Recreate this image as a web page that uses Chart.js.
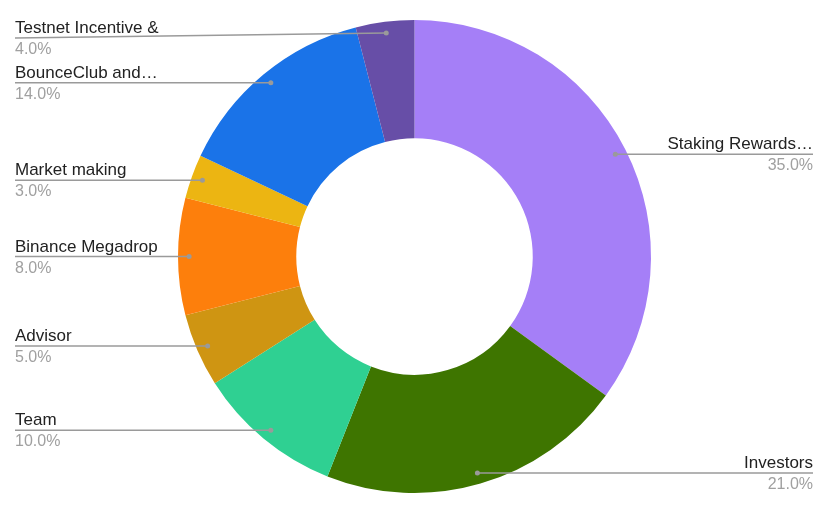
<!DOCTYPE html>
<html>
<head>
<meta charset="utf-8">
<script src="https://cdn.jsdelivr.net/npm/chart.js@4"></script>
<style>
  body { margin: 0; background: #fff; }
  #wrap { width: 829px; height: 505px; position: relative; }
</style>
</head>
<body>
<div id="wrap"><canvas id="myChart"></canvas></div>
<script>
/* data */
const labels = ['Staking Rewards…', 'Investors', 'Team', 'Advisor', 'Binance Megadrop', 'Market making', 'BounceClub and…', 'Testnet Incentive &'];
const shares = [35, 21, 10, 5, 8, 3, 14, 4];
const colors = ['#a57ff7', '#3e7500', '#2fd092', '#cf9512', '#fd7f0c', '#ecb512', '#1a73e8', '#674ea7'];

/* leader line labels */
const calloutLabels = {
    id: 'calloutLabels',
    afterDraw(chart) {
        const ctx = chart.ctx;
        const meta = chart.getDatasetMeta(0);
        const total = shares.reduce((a, b) => a + b, 0);
        ctx.save();
        meta.data.forEach((arc, i) => {
            const p = arc.getProps(['x', 'y', 'startAngle', 'endAngle', 'outerRadius'], true);
            const mid = (p.startAngle + p.endAngle) / 2;
            const r = p.outerRadius * 0.953;
            const dx = p.x + Math.cos(mid) * r;
            const dy = p.y + Math.sin(mid) * r;
            const left = Math.cos(mid) < 0;
            const ly = Math.max(dy, 38);
            const lx = left ? 15 : 813;

            ctx.strokeStyle = '#9a9a9a';
            ctx.lineWidth = 1.5;
            ctx.beginPath();
            ctx.moveTo(dx, dy);
            ctx.lineTo(lx, ly);
            ctx.stroke();

            ctx.fillStyle = '#9a9a9a';
            ctx.beginPath();
            ctx.arc(dx, dy, 2.5, 0, Math.PI * 2);
            ctx.fill();

            ctx.textAlign = left ? 'left' : 'right';
            ctx.textBaseline = 'alphabetic';
            ctx.font = '17px "Liberation Sans", Arial, sans-serif';
            ctx.fillStyle = '#222222';
            ctx.fillText(labels[i], lx, ly - 5);
            ctx.fillStyle = '#a0a0a0';
            ctx.font = '16px "Liberation Sans", Arial, sans-serif';
            ctx.fillText((shares[i] / total * 100).toFixed(1) + '%', lx, ly + 16);
        });
        ctx.restore();
    }
};

/* Doughnut chart */
new Chart(document.getElementById('myChart'), {
    type: 'doughnut',
    data: {
        labels: labels,
        datasets: [{
            data: shares,
            backgroundColor: colors,
            borderWidth: 0
        }]
    },
    options: {
        responsive: true,
        maintainAspectRatio: false,
        animation: false,
        cutout: '50%',
        layout: { padding: { top: 20, bottom: 12 } },
        plugins: {
            legend: { display: false },
            tooltip: { enabled: false }
        }
    },
    plugins: [calloutLabels]
});
/* Doughnut chart */
</script>
</body>
</html>
